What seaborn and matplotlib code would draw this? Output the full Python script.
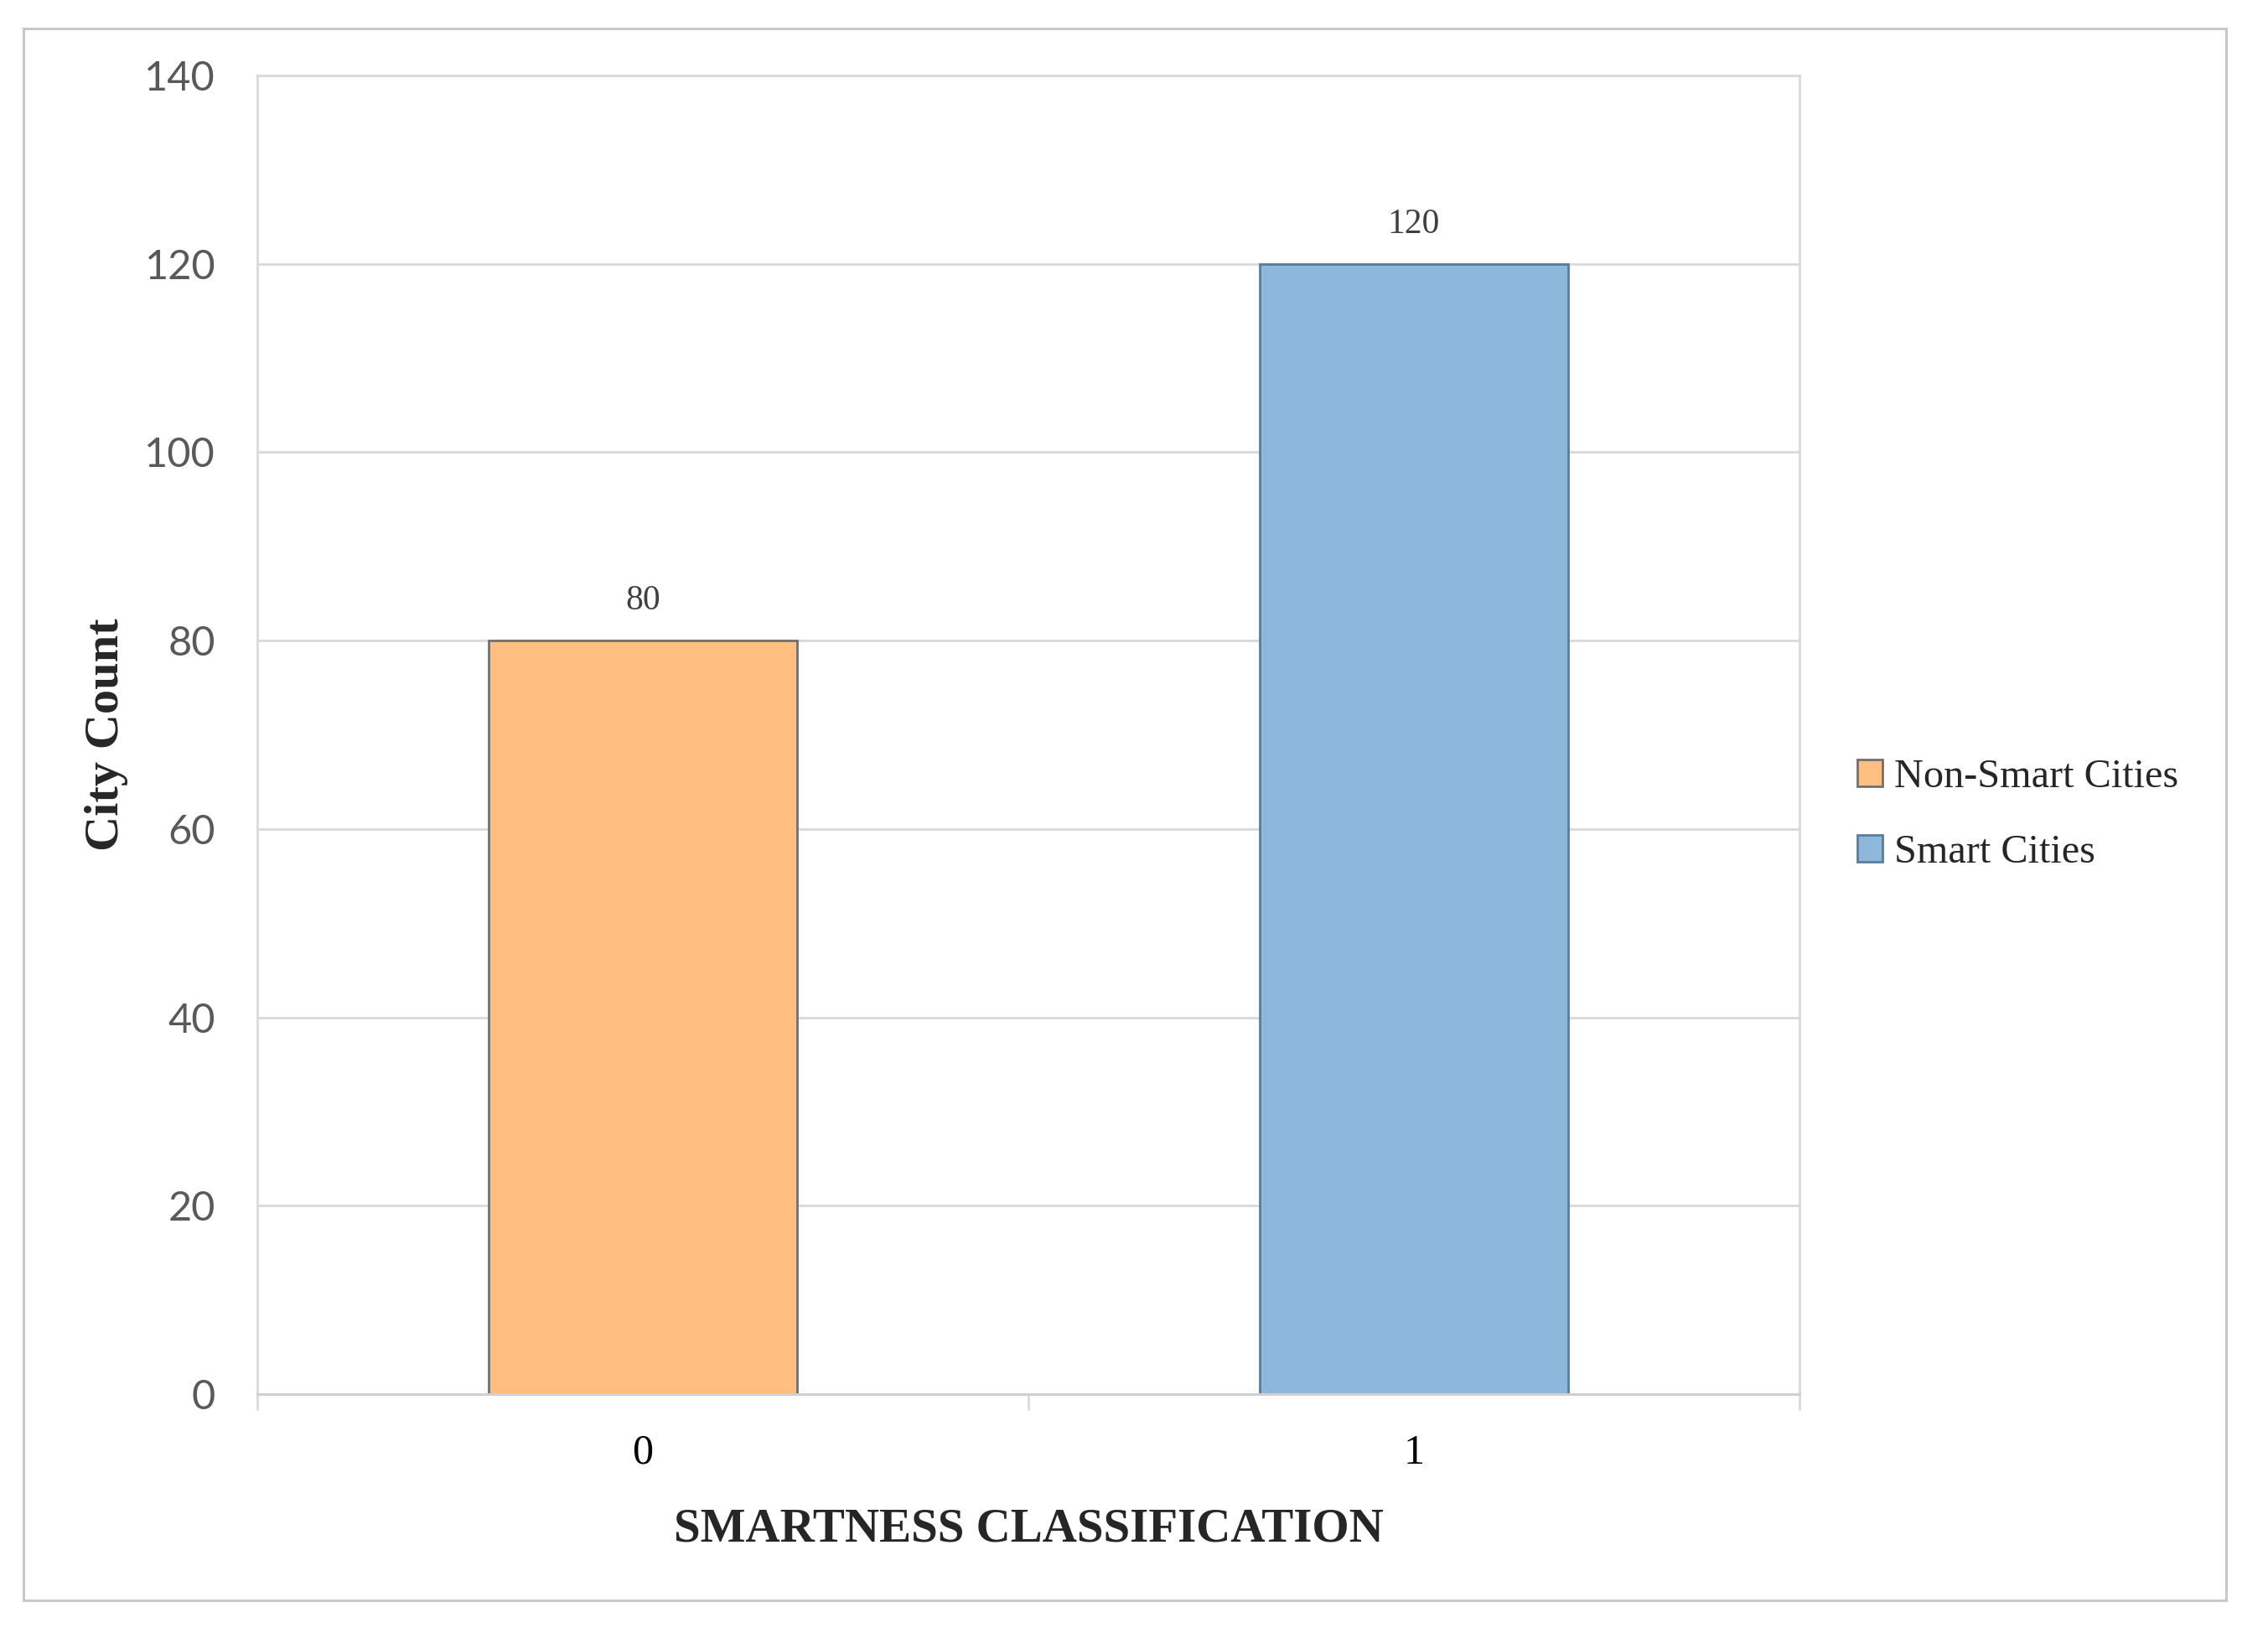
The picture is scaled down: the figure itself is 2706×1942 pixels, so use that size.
import pandas as pd
import matplotlib.pyplot as plt
import seaborn as sns
from matplotlib.patches import Rectangle
from matplotlib.ticker import FixedLocator

# Data
categories = ["0", "1"]
counts = [80, 120]
groups = ["Non-Smart Cities", "Smart Cities"]
fill_colors = ["#FFBF80", "#8DB8DB"]
edge_colors = ["#707070", "#587C9C"]
y_ticks = [0, 20, 40, 60, 80, 100, 120, 140]

df = pd.DataFrame({"Smartness": categories, "Count": counts, "Group": groups})

sns.set_style("white")
plt.rcParams["font.family"] = ["Liberation Serif", "DejaVu Serif"]

fig = plt.figure(figsize=(13.53, 9.71), dpi=200)
ax = fig.add_axes([0.1135, 0.1437, 0.6799, 0.81])

sns.barplot(
    data=df,
    x="Smartness",
    y="Count",
    hue="Group",
    palette=fill_colors,
    saturation=1,
    width=0.4,
    dodge=False,
    ax=ax,
)

for bar, ec in zip(ax.patches, edge_colors):
    bar.set_edgecolor(ec)
    bar.set_linewidth(1.0)

for cont in ax.containers:
    ax.bar_label(cont, padding=10, fontsize=15, color="#404040",
                 family="Liberation Serif")

ax.set_xlim(-0.5, 1.5)
ax.set_ylim(0, 140)
ax.set_yticks(y_ticks)
ax.yaxis.grid(True, color="#d9d9d9", linewidth=1.0)
ax.set_axisbelow(True)

for side in ["left", "right", "top"]:
    ax.spines[side].set_visible(True)
    ax.spines[side].set_color("#d9d9d9")
    ax.spines[side].set_linewidth(1.0)
ax.spines["bottom"].set_color("#d0d0d0")
ax.spines["bottom"].set_linewidth(1.1)

ax.tick_params(axis="y", length=0, pad=18, labelsize=17.5, labelcolor="#595959")
for lab in ax.get_yticklabels():
    lab.set_family("Lato")
ax.tick_params(axis="x", which="major", length=0, pad=17, labelsize=18,
               labelcolor="black")
ax.xaxis.set_minor_locator(FixedLocator([-0.5, 0.5, 1.5]))
ax.tick_params(axis="x", which="minor", length=6.8, width=1.0,
               color="#d9d9d9", bottom=True)

ax.set_xlabel("SMARTNESS CLASSIFICATION", fontsize=20.5, fontweight="bold",
              labelpad=15)
ax.set_ylabel("City Count", fontsize=21, fontweight="bold", labelpad=7)

handles, labels = ax.get_legend_handles_labels()
ax.get_legend().remove()
for h, ec in zip(handles, edge_colors):
    h.set_edgecolor(ec)
fig.legend(
    handles, labels,
    loc="center left",
    bbox_to_anchor=(2216 / 2706, 1 - 972 / 1942),
    frameon=False,
    fontsize=17.4,
    handlelength=0.62,
    handleheight=0.62,
    handletextpad=0.3,
    labelspacing=0.95,
    borderpad=0,
    borderaxespad=0,
)

# outer frame
fig.patches.append(Rectangle((0.0103, 0.0170), 0.9712, 0.9655,
                             transform=fig.transFigure, fill=False,
                             edgecolor="#c8c8c8", linewidth=1.1))

plt.savefig("out.png", dpi=200)
